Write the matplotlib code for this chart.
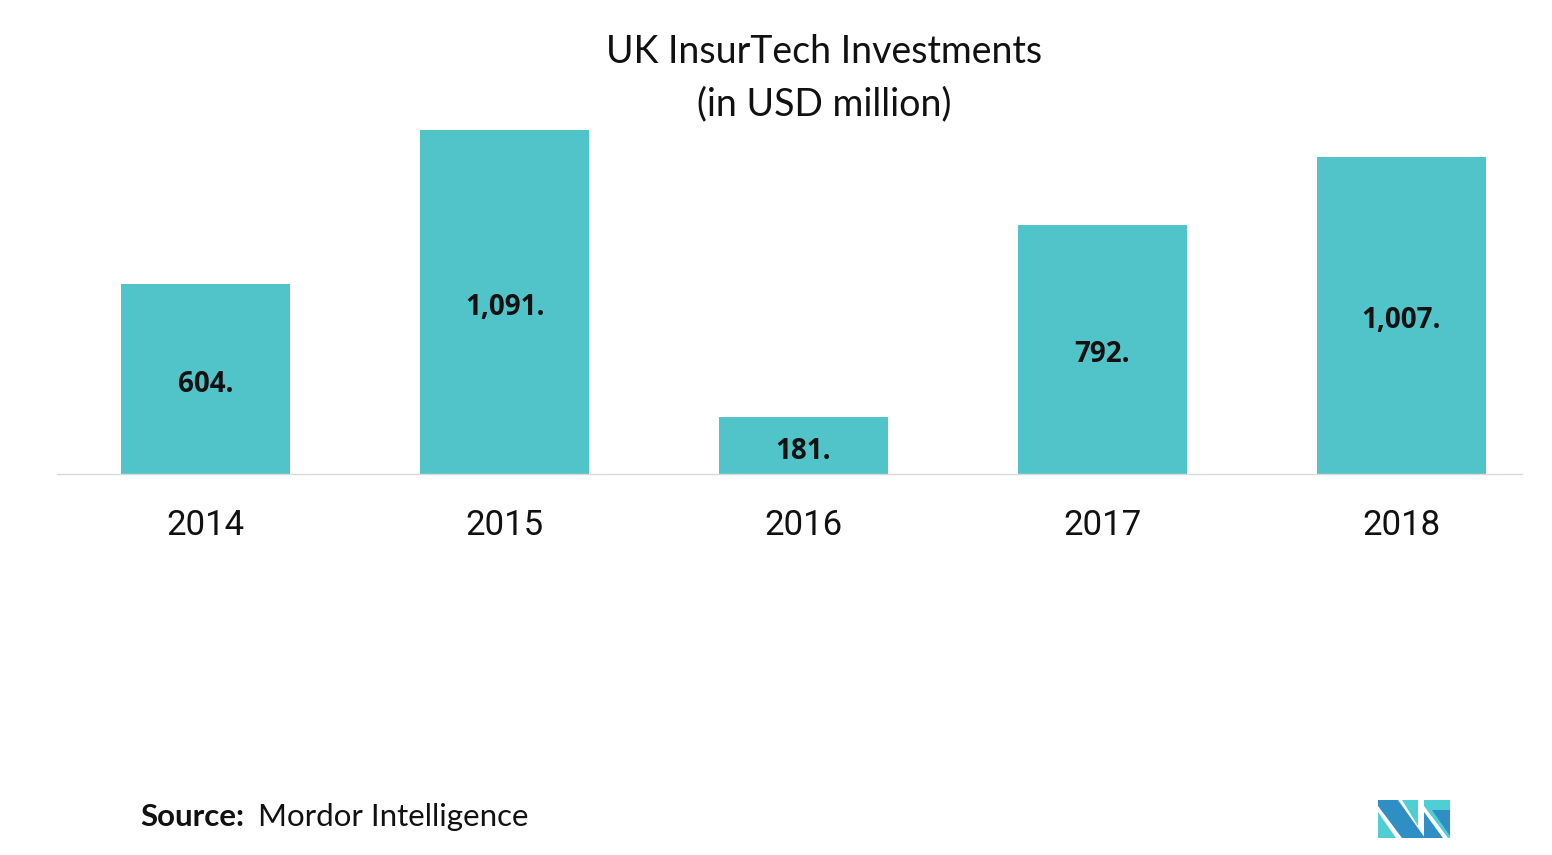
import matplotlib.pyplot as plt
from matplotlib.patches import Polygon

years = ["2014", "2015", "2016", "2017", "2018"]
values = [604, 1091, 181, 792, 1007]
labels = ["604.", "1,091.", "181.", "792.", "1,007."]

BAR = "#51c4ca"

fig = plt.figure(figsize=(15.52, 8.55), dpi=100)
ax = fig.add_axes([57 / 1552, (855 - 474) / 855, (1522 - 57) / 1552, 1100 * 0.315 / 855])

x = range(len(years))
ax.bar(x, values, width=0.565, color=BAR, zorder=2)
for i, (v, lab) in enumerate(zip(values, labels)):
    ax.annotate(lab, (i, v / 2), xytext=(0, -4), textcoords="offset points",
                ha="center", va="center", fontsize=20, fontweight="bold",
                family="Open Sans", color="#111111")

ax.set_xlim(-0.497, 4.403)
ax.set_ylim(0, 1100)
ax.set_xticks(list(x))
ax.set_xticklabels(years, fontsize=25, family="Roboto", color="#111111")
ax.tick_params(axis="x", length=0, pad=25.5)
ax.set_yticks([])
for s in ["top", "right", "left"]:
    ax.spines[s].set_visible(False)
ax.spines["bottom"].set_color("#d9d9d9")
ax.spines["bottom"].set_linewidth(1)

fig.text(824, 855 - 52, "UK InsurTech Investments", transform=None, ha="center",
         va="center", fontsize=27, family="Lato", color="#111111")
fig.text(824, 855 - 104, "(in USD million)", transform=None, ha="center",
         va="center", fontsize=27, family="Lato", color="#111111")

fig.text(140, 855 - 817, "Source:", transform=None, ha="left", va="center",
         fontsize=22.5, fontweight="bold", family="Lato", color="#111111")
fig.text(258, 855 - 817, "Mordor Intelligence", transform=None, ha="left",
         va="center", fontsize=22.5, family="Lato", color="#111111")

# logo
def px(pts):
    return [(a / 1552, (855 - b) / 855) for a, b in pts]

dark = "#2f8fc4"
teal = "#4fcfd3"
shapes = [
    (px([(1378, 812), (1378, 838), (1396, 838)]), teal),
    (px([(1378, 800), (1398, 800), (1425, 838), (1402, 838), (1378, 806)]), dark),
    (px([(1402, 800), (1418, 800), (1418, 826)]), teal),
    (px([(1424, 800), (1450, 800), (1450, 838), (1448, 838), (1424, 806)]), teal),
    (px([(1424, 812), (1443, 838), (1424, 838)]), dark),
    (px([(1432, 810), (1450, 836), (1450, 810)]), dark),
]
for pts, c in shapes:
    fig.patches.append(Polygon(pts, closed=True, transform=fig.transFigure,
                               facecolor=c, edgecolor="none"))

fig.savefig("out.png", dpi=100, facecolor="white")
